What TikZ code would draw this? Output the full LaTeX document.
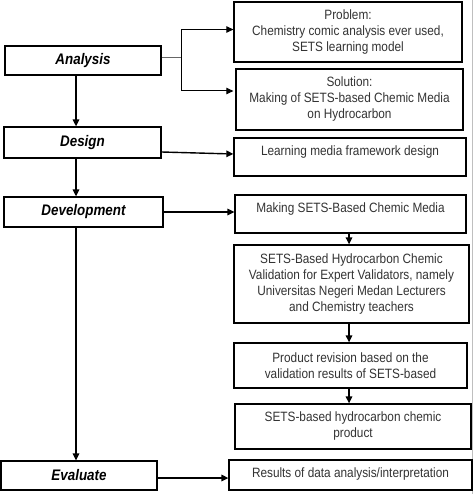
\documentclass[tikz,border=0pt]{standalone}
\usepackage{fontspec}
\setmainfont{Liberation Sans}[FakeStretch=0.875]
\usetikzlibrary{arrows.meta}
\begin{document}
\begin{tikzpicture}[x=1pt,y=-1pt,
  box/.style={draw=black,line width=1.3pt,inner sep=0pt,fill=white},
  txt/.style={align=center,font=\fontsize{13.5}{16}\selectfont,text=black!80,inner sep=0pt},
  lab/.style={font=\fontsize{15.3}{17}\selectfont\bfseries\itshape},
  arr/.style={line width=1.4pt,-{Triangle[length=7pt,width=6.5pt]}},
  thin/.style={line width=0.6pt,draw=black!60}]
\useasboundingbox (0,0) rectangle (474,494);
\fill[white] (0,0) rectangle (474,494);
\draw[black!25,line width=0.8pt] (472.5,0) -- (472.5,494);
% left column
\node[box,minimum width=156pt,minimum height=29pt] (ana) at (83,60.5) {};
\node[lab] (anat) at (ana) {Analysis};
\node[box,minimum width=157pt,minimum height=31pt] (des) at (82.5,142.5) {};
\node[lab] (dest) at (des) {Design};
\node[box,minimum width=159pt,minimum height=30pt] (dev) at (83.5,212) {};
\node[lab] (devt) at (dev) {Development};
\node[box,minimum width=156pt,minimum height=29pt] (eva) at (79,475.5) {};
\node[lab] (evat) at (eva) {Evaluate};
% right column
\node[box,minimum width=228pt,minimum height=60pt] (pro) at (348,32) {};
\node[txt] (prot) at (pro) {Problem:\\Chemistry comic analysis ever used,\\SETS learning model};
\node[box,minimum width=227pt,minimum height=61pt] (sol) at (349.5,99.5) {};
\node[txt] (solt) at (sol) {Solution:\\Making of SETS-based Chemic Media\\on Hydrocarbon};
\node[box,minimum width=232pt,minimum height=38pt] (lea) at (350,157) {};
\node[txt] (leat) at (350,152) {Learning media framework design};
\node[box,minimum width=231pt,minimum height=38pt] (mak) at (350.5,214) {};
\node[txt] (makt) at (350.5,209) {Making SETS-Based Chemic Media};
\node[box,minimum width=235pt,minimum height=78pt] (val) at (351.5,284) {};
\node[txt] (valt) at (val) {SETS-Based Hydrocarbon Chemic\\Validation for Expert Validators, namely\\Universitas Negeri Medan Lecturers\\and Chemistry teachers};
\node[box,minimum width=233pt,minimum height=45pt] (rev) at (350.5,365.5) {};
\node[txt] (revt) at (rev) {Product revision based on the\\validation results of SETS-based};
\node[box,minimum width=236pt,minimum height=45pt] (prd) at (353,426.5) {};
\node[txt] (prdt) at (prd) {SETS-based hydrocarbon chemic\\product};
\node[box,minimum width=243pt,minimum height=30pt] (res) at (350.5,475) {};
\node[txt] (rest) at (350.5,474) {Results of data analysis/interpretation};
% coordinates
\coordinate (lx) at (76,0);
\coordinate (rx) at (349,0);
\coordinate (bx) at (181,0);
% left arrows
\draw[arr] (ana.south -| lx) -- (des.north -| lx);
\draw[arr] (des.south -| lx) -- (dev.north -| lx);
\draw[arr] (dev.south -| lx) -- (eva.north -| lx);
% branch
\coordinate (b0) at ([yshift=3.5pt]ana.east);
\coordinate (b1) at ([yshift=2.5pt]pro.west -| bx);
\coordinate (b2) at ([yshift=8.5pt]sol.west -| bx);
\draw[thin] (b0) -- (b0 -| bx);
\draw[line width=0.8pt] (b1) -- (b2);
\draw[line width=1pt,-{Triangle[length=7pt,width=6.5pt]}] (b1) -- (b1 -| pro.west);
\draw[line width=1pt,-{Triangle[length=7pt,width=6.5pt]}] (b2) -- ([xshift=-2pt]b2 -| sol.west);
% horizontal arrows
\draw[arr] ([yshift=-9.5pt]des.east) -- ([yshift=3pt]lea.west);
\draw[arr] (dev.east) -- (dev.east -| mak.west);
\draw[arr] ([yshift=-2.5pt]eva.east) -- ([yshift=-2.5pt]eva.east -| res.west);
% right arrows
\draw[arr] (mak.south -| rx) -- (val.north -| rx);
\draw[arr] (val.south -| rx) -- (rev.north -| rx);
\draw[arr] (rev.south -| rx) -- (prd.north -| rx);
\end{tikzpicture}
\end{document}
